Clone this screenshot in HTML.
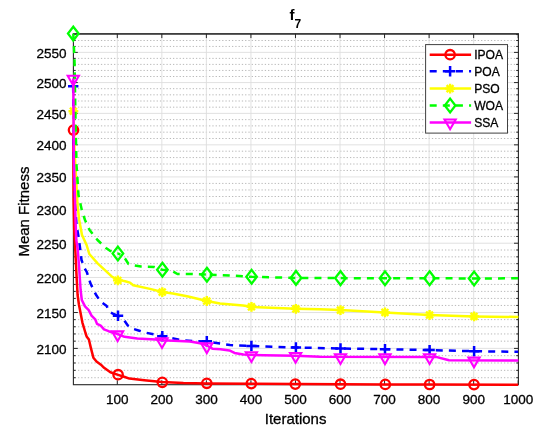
<!DOCTYPE html>
<html><head><meta charset="utf-8"><style>html,body{margin:0;padding:0;background:#fff;overflow:hidden}svg{display:block}</style></head>
<body>
<svg width="550" height="435" viewBox="0 0 550 435">
<rect width="550" height="435" fill="#fff"/>
<path d="M73.4 377.72H518.4 M73.4 370.34H518.4 M73.4 362.99H518.4 M73.4 355.68H518.4 M73.4 341.16H518.4 M73.4 333.95H518.4 M73.4 326.77H518.4 M73.4 319.63H518.4 M73.4 305.45H518.4 M73.4 298.41H518.4 M73.4 291.40H518.4 M73.4 284.42H518.4 M73.4 270.56H518.4 M73.4 263.68H518.4 M73.4 256.83H518.4 M73.4 250.01H518.4 M73.4 236.46H518.4 M73.4 229.73H518.4 M73.4 223.02H518.4 M73.4 216.35H518.4 M73.4 203.10H518.4 M73.4 196.51H518.4 M73.4 189.95H518.4 M73.4 183.42H518.4 M73.4 170.45H518.4 M73.4 164.00H518.4 M73.4 157.58H518.4 M73.4 151.19H518.4 M73.4 138.49H518.4 M73.4 132.17H518.4 M73.4 125.89H518.4 M73.4 119.63H518.4 M73.4 107.18H518.4 M73.4 101.00H518.4 M73.4 94.84H518.4 M73.4 88.70H518.4 M73.4 76.50H518.4 M73.4 70.44H518.4 M73.4 64.40H518.4 M73.4 58.39H518.4 M73.4 46.43H518.4 M73.4 40.49H518.4" stroke="#b9b9b9" stroke-width="1.0" stroke-dasharray="1.3 1.977" stroke-dashoffset="1.977" fill="none"/>
<path d="M73.4 348.40H518.4 M73.4 312.53H518.4 M73.4 277.48H518.4 M73.4 243.22H518.4 M73.4 209.71H518.4 M73.4 176.92H518.4 M73.4 144.83H518.4 M73.4 113.39H518.4 M73.4 82.59H518.4 M73.4 52.40H518.4 M117.30 33.7V384.7 M161.84 33.7V384.7 M206.39 33.7V384.7 M250.93 33.7V384.7 M295.48 33.7V384.7 M340.02 33.7V384.7 M384.56 33.7V384.7 M429.11 33.7V384.7 M473.65 33.7V384.7" stroke="#dedede" stroke-width="0.9" fill="none"/>
<path d="M117.30 384.7v-4.4M117.30 33.7v4.4 M161.84 384.7v-4.4M161.84 33.7v4.4 M206.39 384.7v-4.4M206.39 33.7v4.4 M250.93 384.7v-4.4M250.93 33.7v4.4 M295.48 384.7v-4.4M295.48 33.7v4.4 M340.02 384.7v-4.4M340.02 33.7v4.4 M384.56 384.7v-4.4M384.56 33.7v4.4 M429.11 384.7v-4.4M429.11 33.7v4.4 M473.65 384.7v-4.4M473.65 33.7v4.4 M518.20 384.7v-4.4M518.20 33.7v4.4 M73.4 377.72h2.2M518.4 377.72h-2.2 M73.4 370.34h2.2M518.4 370.34h-2.2 M73.4 362.99h2.2M518.4 362.99h-2.2 M73.4 355.68h2.2M518.4 355.68h-2.2 M73.4 348.40h4.4M518.4 348.40h-4.4 M73.4 341.16h2.2M518.4 341.16h-2.2 M73.4 333.95h2.2M518.4 333.95h-2.2 M73.4 326.77h2.2M518.4 326.77h-2.2 M73.4 319.63h2.2M518.4 319.63h-2.2 M73.4 312.53h4.4M518.4 312.53h-4.4 M73.4 305.45h2.2M518.4 305.45h-2.2 M73.4 298.41h2.2M518.4 298.41h-2.2 M73.4 291.40h2.2M518.4 291.40h-2.2 M73.4 284.42h2.2M518.4 284.42h-2.2 M73.4 277.48h4.4M518.4 277.48h-4.4 M73.4 270.56h2.2M518.4 270.56h-2.2 M73.4 263.68h2.2M518.4 263.68h-2.2 M73.4 256.83h2.2M518.4 256.83h-2.2 M73.4 250.01h2.2M518.4 250.01h-2.2 M73.4 243.22h4.4M518.4 243.22h-4.4 M73.4 236.46h2.2M518.4 236.46h-2.2 M73.4 229.73h2.2M518.4 229.73h-2.2 M73.4 223.02h2.2M518.4 223.02h-2.2 M73.4 216.35h2.2M518.4 216.35h-2.2 M73.4 209.71h4.4M518.4 209.71h-4.4 M73.4 203.10h2.2M518.4 203.10h-2.2 M73.4 196.51h2.2M518.4 196.51h-2.2 M73.4 189.95h2.2M518.4 189.95h-2.2 M73.4 183.42h2.2M518.4 183.42h-2.2 M73.4 176.92h4.4M518.4 176.92h-4.4 M73.4 170.45h2.2M518.4 170.45h-2.2 M73.4 164.00h2.2M518.4 164.00h-2.2 M73.4 157.58h2.2M518.4 157.58h-2.2 M73.4 151.19h2.2M518.4 151.19h-2.2 M73.4 144.83h4.4M518.4 144.83h-4.4 M73.4 138.49h2.2M518.4 138.49h-2.2 M73.4 132.17h2.2M518.4 132.17h-2.2 M73.4 125.89h2.2M518.4 125.89h-2.2 M73.4 119.63h2.2M518.4 119.63h-2.2 M73.4 113.39h4.4M518.4 113.39h-4.4 M73.4 107.18h2.2M518.4 107.18h-2.2 M73.4 101.00h2.2M518.4 101.00h-2.2 M73.4 94.84h2.2M518.4 94.84h-2.2 M73.4 88.70h2.2M518.4 88.70h-2.2 M73.4 82.59h4.4M518.4 82.59h-4.4 M73.4 76.50h2.2M518.4 76.50h-2.2 M73.4 70.44h2.2M518.4 70.44h-2.2 M73.4 64.40h2.2M518.4 64.40h-2.2 M73.4 58.39h2.2M518.4 58.39h-2.2 M73.4 52.40h4.4M518.4 52.40h-4.4 M73.4 46.43h2.2M518.4 46.43h-2.2 M73.4 40.49h2.2M518.4 40.49h-2.2 M73.4 34.57h2.2M518.4 34.57h-2.2" stroke="#262626" stroke-width="1" fill="none"/>
<rect x="73.4" y="33.7" width="445.0" height="351.0" fill="none" stroke="#262626" stroke-width="1.1"/>
<path d="M73.4 34.3H518.4" stroke="#262626" stroke-width="1.1" fill="none" opacity="0.85"/>
<path d="M73.4 130.1 L73.4 160.0 L73.6 200.0 L74.2 230.0 L75.3 250.0 L76.5 275.0 L77.6 295.0 L79.0 305.0 L80.0 310.0 L82.4 322.6 L85.5 333.0 L86.6 336.4 L88.9 339.5 L90.8 347.6 L93.4 357.7 L96.5 361.5 L100.9 364.7 L104.1 367.8 L110.4 372.3 L118.1 374.9 L124.8 377.0 L129.4 378.6 L144.3 380.2 L161.9 382.1 L183.4 383.1 L206.8 383.5 L251.3 383.8 L295.3 384.1 L340.5 384.2 L385.3 384.4 L429.6 384.5 L518.2 384.7" stroke="#ff0000" stroke-width="2.5" fill="none" stroke-linejoin="round"/>
<circle cx="73.5" cy="130.1" r="4.7" fill="none" stroke="#ff0000" stroke-width="2.3"/>
<circle cx="118.1" cy="374.7" r="4.7" fill="none" stroke="#ff0000" stroke-width="2.3"/>
<circle cx="162.3" cy="382.3" r="4.7" fill="none" stroke="#ff0000" stroke-width="2.3"/>
<circle cx="206.8" cy="383.3" r="4.7" fill="none" stroke="#ff0000" stroke-width="2.3"/>
<circle cx="251.3" cy="383.6" r="4.7" fill="none" stroke="#ff0000" stroke-width="2.3"/>
<circle cx="295.3" cy="384.1" r="4.7" fill="none" stroke="#ff0000" stroke-width="2.3"/>
<circle cx="340.5" cy="384.2" r="4.7" fill="none" stroke="#ff0000" stroke-width="2.3"/>
<circle cx="385.3" cy="384.4" r="4.7" fill="none" stroke="#ff0000" stroke-width="2.3"/>
<circle cx="429.6" cy="384.5" r="4.7" fill="none" stroke="#ff0000" stroke-width="2.3"/>
<circle cx="474.0" cy="384.6" r="4.7" fill="none" stroke="#ff0000" stroke-width="2.3"/>
<path d="M73.2 86.2 L73.8 150.0 L75.0 200.0 L76.5 225.0 L78.6 237.0 L80.3 250.0 L81.5 260.0 L84.5 268.0 L86.8 272.0 L90.4 283.3 L95.7 294.3 L100.6 301.6 L106.7 306.0 L108.2 309.5 L109.8 312.0 L113.5 314.0 L118.0 316.0" stroke="#0000ff" stroke-width="2.5" fill="none" stroke-linejoin="round" stroke-dasharray="7 6.11" stroke-dashoffset="0.13"/>
<path d="M118.0 316.0 L124.2 320.3 L127.8 325.5 L133.3 328.9 L139.3 330.7 L145.2 332.6 L154.0 334.3 L162.3 336.3 L179.5 339.8 L193.1 341.2 L206.8 341.5" stroke="#0000ff" stroke-width="2.5" fill="none" stroke-linejoin="round" stroke-dasharray="7 6.11" stroke-dashoffset="5.04"/>
<path d="M206.8 341.5 L230.0 345.0 L251.3 345.9 L295.3 347.5 L340.5 348.5 L385.3 349.2 L429.6 350.1 L473.7 351.2 L518.2 351.8" stroke="#0000ff" stroke-width="2.5" fill="none" stroke-linejoin="round" stroke-dasharray="7 6.11" stroke-dashoffset="6.67"/>
<path d="M68.0 86.2h10.4M73.2 81.0v10.4" stroke="#0000ff" stroke-width="2.5" fill="none"/>
<path d="M112.8 315.8h10.4M118.0 310.6v10.4" stroke="#0000ff" stroke-width="2.5" fill="none"/>
<path d="M157.1 336.2h10.4M162.3 331.0v10.4" stroke="#0000ff" stroke-width="2.5" fill="none"/>
<path d="M201.6 341.2h10.4M206.8 336.0v10.4" stroke="#0000ff" stroke-width="2.5" fill="none"/>
<path d="M246.2 345.9h10.4M251.4 340.7v10.4" stroke="#0000ff" stroke-width="2.5" fill="none"/>
<path d="M290.7 347.5h10.4M295.9 342.3v10.4" stroke="#0000ff" stroke-width="2.5" fill="none"/>
<path d="M335.3 348.5h10.4M340.5 343.3v10.4" stroke="#0000ff" stroke-width="2.5" fill="none"/>
<path d="M379.8 349.2h10.4M385.0 344.0v10.4" stroke="#0000ff" stroke-width="2.5" fill="none"/>
<path d="M424.4 350.1h10.4M429.6 344.9v10.4" stroke="#0000ff" stroke-width="2.5" fill="none"/>
<path d="M468.9 351.2h10.4M474.1 346.0v10.4" stroke="#0000ff" stroke-width="2.5" fill="none"/>
<path d="M73.4 111.2 L74.5 150.0 L76.2 180.0 L77.5 205.0 L79.2 220.0 L82.0 235.0 L86.6 245.0 L89.3 254.0 L97.6 263.4 L111.4 276.2 L117.9 280.4 L122.2 280.6 L125.1 281.2 L130.0 282.6 L133.2 285.2 L150.0 288.9 L162.3 292.0 L172.9 293.4 L188.2 296.5 L206.8 301.0 L220.0 303.5 L243.0 305.5 L251.5 306.8 L258.0 307.2 L295.8 308.8 L320.0 309.3 L340.4 310.1 L384.8 312.4 L429.4 315.0 L474.0 316.4 L518.4 317.0" stroke="#ffff00" stroke-width="2.5" fill="none" stroke-linejoin="round"/>
<path d="M68.5 111.2h9.8M73.4 106.3v9.8M69.9 107.7l6.9 6.9M69.9 114.7l6.9 -6.9" stroke="#ffff00" stroke-width="2.4" fill="none"/>
<path d="M113.0 280.4h9.8M117.9 275.5v9.8M114.4 276.9l6.9 6.9M114.4 283.9l6.9 -6.9" stroke="#ffff00" stroke-width="2.4" fill="none"/>
<path d="M157.4 292.1h9.8M162.3 287.2v9.8M158.8 288.6l6.9 6.9M158.8 295.6l6.9 -6.9" stroke="#ffff00" stroke-width="2.4" fill="none"/>
<path d="M201.9 301.0h9.8M206.8 296.1v9.8M203.3 297.5l6.9 6.9M203.3 304.5l6.9 -6.9" stroke="#ffff00" stroke-width="2.4" fill="none"/>
<path d="M246.6 306.8h9.8M251.5 301.9v9.8M248.0 303.3l6.9 6.9M248.0 310.3l6.9 -6.9" stroke="#ffff00" stroke-width="2.4" fill="none"/>
<path d="M291.0 308.8h9.8M295.9 303.9v9.8M292.4 305.3l6.9 6.9M292.4 312.3l6.9 -6.9" stroke="#ffff00" stroke-width="2.4" fill="none"/>
<path d="M335.6 310.1h9.8M340.5 305.2v9.8M337.0 306.6l6.9 6.9M337.0 313.6l6.9 -6.9" stroke="#ffff00" stroke-width="2.4" fill="none"/>
<path d="M380.1 312.4h9.8M385.0 307.5v9.8M381.5 308.9l6.9 6.9M381.5 315.9l6.9 -6.9" stroke="#ffff00" stroke-width="2.4" fill="none"/>
<path d="M424.7 315.0h9.8M429.6 310.1v9.8M426.1 311.5l6.9 6.9M426.1 318.5l6.9 -6.9" stroke="#ffff00" stroke-width="2.4" fill="none"/>
<path d="M469.2 316.4h9.8M474.1 311.5v9.8M470.6 312.9l6.9 6.9M470.6 319.9l6.9 -6.9" stroke="#ffff00" stroke-width="2.4" fill="none"/>
<path d="M73.3 33.6 L74.5 60.0 L75.5 120.0 L76.2 150.0 L76.5 165.0 L78.5 195.0 L81.8 210.0 L85.0 220.0 L89.6 230.0 L97.5 240.0 L106.0 248.0 L110.0 250.8 L114.0 252.4 L117.9 253.4" stroke="#00ff00" stroke-width="2.5" fill="none" stroke-linejoin="round" stroke-dasharray="7 6.11" stroke-dashoffset="0.54"/>
<path d="M117.9 253.4 L122.5 255.5 L125.0 258.5 L128.5 264.0 L131.0 264.8 L141.0 266.6 L154.0 266.9 L162.4 269.7 L172.0 270.9 L177.4 274.0 L191.0 274.0 L206.9 274.6" stroke="#00ff00" stroke-width="2.5" fill="none" stroke-linejoin="round" stroke-dasharray="7 6.11" stroke-dashoffset="4.25"/>
<path d="M206.9 274.6 L230.0 275.5 L251.6 276.8 L296.0 277.9 L340.5 278.1 L385.0 278.3 L429.6 278.2 L474.1 278.5 L518.4 278.3" stroke="#00ff00" stroke-width="2.5" fill="none" stroke-linejoin="round" stroke-dasharray="7 6.11" stroke-dashoffset="10.35"/>
<path d="M73.3 26.7L78.6 33.6L73.3 40.5L68.0 33.6Z" stroke="#00ff00" stroke-width="2.3" fill="none"/>
<path d="M117.9 246.6L123.2 253.5L117.9 260.4L112.6 253.5Z" stroke="#00ff00" stroke-width="2.3" fill="none"/>
<path d="M162.4 262.8L167.7 269.7L162.4 276.6L157.1 269.7Z" stroke="#00ff00" stroke-width="2.3" fill="none"/>
<path d="M206.9 267.8L212.2 274.7L206.9 281.6L201.6 274.7Z" stroke="#00ff00" stroke-width="2.3" fill="none"/>
<path d="M251.6 269.9L256.9 276.8L251.6 283.7L246.3 276.8Z" stroke="#00ff00" stroke-width="2.3" fill="none"/>
<path d="M296.0 271.0L301.3 277.9L296.0 284.8L290.7 277.9Z" stroke="#00ff00" stroke-width="2.3" fill="none"/>
<path d="M340.5 271.2L345.8 278.1L340.5 285.0L335.2 278.1Z" stroke="#00ff00" stroke-width="2.3" fill="none"/>
<path d="M385.0 271.4L390.3 278.3L385.0 285.2L379.7 278.3Z" stroke="#00ff00" stroke-width="2.3" fill="none"/>
<path d="M429.6 271.3L434.9 278.2L429.6 285.1L424.3 278.2Z" stroke="#00ff00" stroke-width="2.3" fill="none"/>
<path d="M474.1 271.6L479.4 278.5L474.1 285.4L468.8 278.5Z" stroke="#00ff00" stroke-width="2.3" fill="none"/>
<path d="M73.3 78.5 L73.8 160.0 L74.5 180.0 L75.5 220.0 L76.3 240.0 L77.8 250.0 L79.3 270.0 L80.6 290.0 L81.8 300.0 L85.0 306.4 L88.7 310.1 L91.5 315.6 L95.2 319.3 L97.0 323.9 L100.7 325.7 L104.0 329.4 L108.6 331.2 L117.6 334.0 L124.5 336.8 L137.3 338.6 L155.5 339.5 L162.0 340.3 L173.6 340.7 L190.0 341.4 L197.3 342.8 L202.6 343.7 L206.8 345.5 L212.8 348.8 L220.5 349.3 L229.4 350.4 L234.5 352.9 L243.4 354.4 L251.3 354.8 L263.7 355.2 L295.3 355.8 L320.0 356.7 L436.0 356.9 L449.0 360.3 L518.4 360.5" stroke="#ff00ff" stroke-width="2.5" fill="none" stroke-linejoin="round"/>
<path d="M67.7 75.8H78.9L73.3 85.5Z" stroke="#ff00ff" stroke-width="2.1" fill="none" stroke-linejoin="miter"/>
<path d="M112.0 331.4H123.2L117.6 341.1Z" stroke="#ff00ff" stroke-width="2.1" fill="none" stroke-linejoin="miter"/>
<path d="M156.4 338.2H167.6L162.0 347.9Z" stroke="#ff00ff" stroke-width="2.1" fill="none" stroke-linejoin="miter"/>
<path d="M201.2 343.4H212.4L206.8 353.1Z" stroke="#ff00ff" stroke-width="2.1" fill="none" stroke-linejoin="miter"/>
<path d="M245.8 352.2H257.0L251.4 361.9Z" stroke="#ff00ff" stroke-width="2.1" fill="none" stroke-linejoin="miter"/>
<path d="M290.0 353.0H301.2L295.6 362.7Z" stroke="#ff00ff" stroke-width="2.1" fill="none" stroke-linejoin="miter"/>
<path d="M334.9 354.2H346.1L340.5 363.9Z" stroke="#ff00ff" stroke-width="2.1" fill="none" stroke-linejoin="miter"/>
<path d="M379.4 354.4H390.6L385.0 364.1Z" stroke="#ff00ff" stroke-width="2.1" fill="none" stroke-linejoin="miter"/>
<path d="M424.0 354.2H435.2L429.6 363.9Z" stroke="#ff00ff" stroke-width="2.1" fill="none" stroke-linejoin="miter"/>
<path d="M468.4 357.6H479.6L474.0 367.3Z" stroke="#ff00ff" stroke-width="2.1" fill="none" stroke-linejoin="miter"/>
<g font-family="'Liberation Sans', sans-serif" font-size="13.5" fill="#000" stroke="#000" stroke-width="0.3"><text x="117.3" y="404" text-anchor="middle">100</text><text x="161.8" y="404" text-anchor="middle">200</text><text x="206.4" y="404" text-anchor="middle">300</text><text x="250.9" y="404" text-anchor="middle">400</text><text x="295.5" y="404" text-anchor="middle">500</text><text x="340.0" y="404" text-anchor="middle">600</text><text x="384.6" y="404" text-anchor="middle">700</text><text x="429.1" y="404" text-anchor="middle">800</text><text x="473.7" y="404" text-anchor="middle">900</text><text x="518.2" y="404" text-anchor="middle">1000</text><text x="66.6" y="353.8" text-anchor="end">2100</text><text x="66.6" y="317.9" text-anchor="end">2150</text><text x="66.6" y="282.9" text-anchor="end">2200</text><text x="66.6" y="248.6" text-anchor="end">2250</text><text x="66.6" y="215.1" text-anchor="end">2300</text><text x="66.6" y="182.3" text-anchor="end">2350</text><text x="66.6" y="150.2" text-anchor="end">2400</text><text x="66.6" y="118.8" text-anchor="end">2450</text><text x="66.6" y="88.0" text-anchor="end">2500</text><text x="66.6" y="57.8" text-anchor="end">2550</text></g>
<text font-family="'Liberation Sans', sans-serif" font-size="15" x="295.6" y="424.2" text-anchor="middle" stroke="#000" stroke-width="0.3">Iterations</text>
<text font-family="'Liberation Sans', sans-serif" font-size="15" transform="translate(29.4 211.6) rotate(-90)" text-anchor="middle" stroke="#000" stroke-width="0.3">Mean Fitness</text>
<text font-family="'Liberation Sans', sans-serif" font-size="15" font-weight="bold" x="289.5" y="19.8">f<tspan font-size="12" dy="7.9">7</tspan></text>
<rect x="425.6" y="44.6" width="81.9" height="88.5" fill="#fff" stroke="#404040" stroke-width="1"/>
<path d="M429.7 54.7H471.1" stroke="#ff0000" stroke-width="2.5" fill="none"/>
<circle cx="450.1" cy="54.7" r="4.7" fill="none" stroke="#ff0000" stroke-width="2.3"/>
<text font-family="'Liberation Sans', sans-serif" font-size="12.1" x="474.2" y="59.4" stroke="#000" stroke-width="0.3">IPOA</text>
<path d="M429.7 71.3H471.1" stroke="#0000ff" stroke-width="2.5" fill="none" stroke-dasharray="7 6.11"/>
<path d="M444.9 71.3h10.4M450.1 66.1v10.4" stroke="#0000ff" stroke-width="2.5" fill="none"/>
<text font-family="'Liberation Sans', sans-serif" font-size="12.1" x="474.2" y="76.0" stroke="#000" stroke-width="0.3">POA</text>
<path d="M429.7 88.6H471.1" stroke="#ffff00" stroke-width="2.5" fill="none"/>
<path d="M445.2 88.6h9.8M450.1 83.7v9.8M446.6 85.1l6.9 6.9M446.6 92.1l6.9 -6.9" stroke="#ffff00" stroke-width="2.4" fill="none"/>
<text font-family="'Liberation Sans', sans-serif" font-size="12.1" x="474.2" y="93.3" stroke="#000" stroke-width="0.3">PSO</text>
<path d="M429.7 105.5H471.1" stroke="#00ff00" stroke-width="2.5" fill="none" stroke-dasharray="7 6.11"/>
<path d="M450.1 98.6L455.4 105.5L450.1 112.4L444.8 105.5Z" stroke="#00ff00" stroke-width="2.3" fill="none"/>
<text font-family="'Liberation Sans', sans-serif" font-size="12.1" x="474.2" y="110.2" stroke="#000" stroke-width="0.3">WOA</text>
<path d="M429.7 122.5H471.1" stroke="#ff00ff" stroke-width="2.5" fill="none"/>
<path d="M444.5 119.5H455.7L450.1 129.2Z" stroke="#ff00ff" stroke-width="2.1" fill="none" stroke-linejoin="miter"/>
<text font-family="'Liberation Sans', sans-serif" font-size="12.1" x="474.2" y="127.2" stroke="#000" stroke-width="0.3">SSA</text>
</svg>
</body></html>
